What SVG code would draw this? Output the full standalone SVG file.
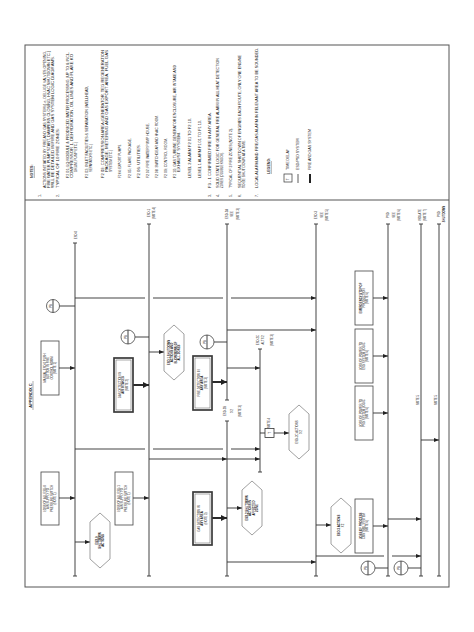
<svg xmlns="http://www.w3.org/2000/svg" width="474" height="632" viewBox="0 0 474 632">
<style>
.ln{stroke:#3a3a3a;stroke-width:0.95;fill:none}
.th{stroke:#2a2a2a;stroke-width:2;fill:none}
.bx{fill:#fff;stroke:#444;stroke-width:0.8}
.db{fill:#fff;stroke:#3a3a3a;stroke-width:1.7}
.dbi{fill:none;stroke:#555;stroke-width:0.5}
.hx{fill:#fff;stroke:#777;stroke-width:0.7}
.ci{fill:#fff;stroke:#444;stroke-width:0.8}
.t{font-family:'Liberation Sans',Arial,sans-serif;fill:#1a1a1a}
.n{font-size:3.6px}
.s{font-size:2.8px}
.k{font-weight:bold}
</style>
<defs>
<marker id="ah" markerUnits="userSpaceOnUse" markerWidth="6" markerHeight="5" refX="5" refY="2.5" orient="auto"><path d="M0,0.6 L5,2.5 L0,4.4z" fill="#222"/></marker>
<marker id="ahb" markerUnits="userSpaceOnUse" markerWidth="7" markerHeight="6" refX="6" refY="3" orient="auto"><path d="M0,0 L6,3 L0,6z" fill="#222"/></marker>
</defs>
<rect width="474" height="632" fill="#fff"/>
<rect x="25" y="45" width="424" height="542" fill="none" stroke="#555" stroke-width="1"/>
<line x1="25" y1="200" x2="449" y2="200" stroke="#555" stroke-width="1"/>

<g id="notes" class="t n">
<text class="k" transform="translate(33.2,178) rotate(-90)">NOTES:</text>
<line x1="34.3" y1="178" x2="34.3" y2="166" stroke="#333" stroke-width="0.4"/>
<text transform="translate(41.2,197) rotate(-90)">1.</text>
<text transform="translate(46.2,188) rotate(-90)" textLength="137" lengthAdjust="spacingAndGlyphs">ACTIONS INITIATED BY FIRE AND GAS SYSTEM (i.e. DELUGE VALVES OPENING,</text>
<text transform="translate(50.2,188) rotate(-90)" textLength="137" lengthAdjust="spacingAndGlyphs">FIRE WATER PUMP START, DAMPERS CLOSING, HVAC SHUTDOWN ETC.)</text>
<text transform="translate(54.2,188) rotate(-90)" textLength="132" lengthAdjust="spacingAndGlyphs">WILL BE DETAILED IN FIRE AND GAS SYSTEM LOGIC DIAGRAMS.</text>
<text transform="translate(59.2,197) rotate(-90)">2.</text>
<text transform="translate(59.2,188) rotate(-90)" textLength="60" lengthAdjust="spacingAndGlyphs">TYPICAL OF 10 FIRE ZONES:</text>
<text transform="translate(69.2,178) rotate(-90)" textLength="126" lengthAdjust="spacingAndGlyphs">F2 01: LQ MODULE &amp; PRODUCED WATER PROCESSING (UP TO &amp; INCL.</text>
<text transform="translate(73.2,178) rotate(-90)" textLength="124" lengthAdjust="spacingAndGlyphs">COMPRESSOR 1, DEHYDRATION, OIL LINES AND FLARE KO</text>
<text transform="translate(77.2,172) rotate(-90)" textLength="30" lengthAdjust="spacingAndGlyphs">DRUM, PUMP ETC.)</text>
<text transform="translate(88.2,178) rotate(-90)" textLength="92" lengthAdjust="spacingAndGlyphs">F2 02: INLET FACILITIES &amp; SEPARATION (WELLHEAD,</text>
<text transform="translate(92.2,172) rotate(-90)" textLength="28" lengthAdjust="spacingAndGlyphs">SEPARATORS ETC.)</text>
<text transform="translate(104.2,178) rotate(-90)" textLength="128" lengthAdjust="spacingAndGlyphs">F2 03: COMPRESSION AREA (GENERATOR, TEG REGENERATION</text>
<text transform="translate(108.2,172) rotate(-90)" textLength="122" lengthAdjust="spacingAndGlyphs">PACKAGE, METERING AND GAS EXPORT AREA, FUEL GAS</text>
<text transform="translate(112.2,172) rotate(-90)" textLength="22" lengthAdjust="spacingAndGlyphs">SYSTEM ETC.)</text>
<text transform="translate(121.2,178) rotate(-90)" textLength="34" lengthAdjust="spacingAndGlyphs">F2 04: EXPORT PUMPS.</text>
<text transform="translate(131.2,178) rotate(-90)" textLength="40" lengthAdjust="spacingAndGlyphs">F2 05: FLARE PACKAGE.</text>
<text transform="translate(140.2,178) rotate(-90)" textLength="34" lengthAdjust="spacingAndGlyphs">F2 06: UTILITIES.</text>
<text transform="translate(149.2,178) rotate(-90)" textLength="55" lengthAdjust="spacingAndGlyphs">F2 07: FIRE WATER PUMP HOUSE.</text>
<text transform="translate(158.2,178) rotate(-90)" textLength="63" lengthAdjust="spacingAndGlyphs">F2 08: SWITCHGEAR AND HVAC ROOM.</text>
<text transform="translate(167.2,178) rotate(-90)" textLength="40" lengthAdjust="spacingAndGlyphs">F2 09: CONTROL ROOM.</text>
<text transform="translate(176.2,178) rotate(-90)" textLength="113" lengthAdjust="spacingAndGlyphs">F2 10: GAS TURBINE GENERATOR ENCLOSURE, AIR INTAKE AND</text>
<text transform="translate(180.2,172) rotate(-90)" textLength="40" lengthAdjust="spacingAndGlyphs">EXHAUST SYSTEM.</text>
<text transform="translate(191.2,178) rotate(-90)" textLength="60" lengthAdjust="spacingAndGlyphs">LEVEL 2 ALARM F2 01 TO F2 10.</text>
<text transform="translate(201.2,178) rotate(-90)" textLength="58" lengthAdjust="spacingAndGlyphs">LEVEL 1 ALARM F1 01 TO F1 10.</text>
<text transform="translate(211.2,197) rotate(-90)">3.</text>
<text transform="translate(211.2,188) rotate(-90)" textLength="76" lengthAdjust="spacingAndGlyphs">F3 - 1 CONFIRMED FIRE IN ANY AREA.</text>
<text transform="translate(219.2,197) rotate(-90)">4.</text>
<text transform="translate(219.2,188) rotate(-90)" textLength="130" lengthAdjust="spacingAndGlyphs">SOLID STATE LOGIC FOR GENERAL FIRE ALARM IN ALL HEAT DETECTION</text>
<text transform="translate(223.2,188) rotate(-90)" textLength="36" lengthAdjust="spacingAndGlyphs">ZONES (DOUBLE KNOCK).</text>
<text transform="translate(232.2,197) rotate(-90)">5.</text>
<text transform="translate(232.2,188) rotate(-90)" textLength="60" lengthAdjust="spacingAndGlyphs">TYPICAL OF 3 FIRE ZONES (NOTE 2).</text>
<text transform="translate(241.2,197) rotate(-90)">6.</text>
<text transform="translate(241.2,188) rotate(-90)" textLength="133" lengthAdjust="spacingAndGlyphs">SEQUENTIAL SHUTDOWN OF ENGINES EACH ROUTE, ONLY ONE ENGINE</text>
<text transform="translate(245.2,188) rotate(-90)" textLength="48" lengthAdjust="spacingAndGlyphs">TO BE SHUT DOWN AT A TIME.</text>
<text transform="translate(258.2,197) rotate(-90)">7.</text>
<text transform="translate(258.2,188) rotate(-90)" textLength="140" lengthAdjust="spacingAndGlyphs">LOCAL ALARM AND FIRE/GAS ALARM IN RELEVANT AREA TO BE SOUNDED.</text>
</g>

<g id="legend" class="t n">
<text class="k" transform="translate(270.2,174) rotate(-90)">LEGEND:</text>
<line x1="271.3" y1="174" x2="271.3" y2="161" stroke="#333" stroke-width="0.4"/>
<rect x="284" y="174" width="8" height="8" fill="#fff" stroke="#333" stroke-width="0.7"/>
<text class="s" transform="translate(289,179.5) rotate(-90)" text-anchor="middle">T</text>
<text transform="translate(289.2,170) rotate(-90)">TIME DELAY</text>
<line x1="298" y1="174" x2="298" y2="183" stroke="#333" stroke-width="0.8"/>
<text transform="translate(299.2,170) rotate(-90)">ESD/PSD SYSTEM</text>
<line x1="310" y1="174" x2="310" y2="183" stroke="#222" stroke-width="2"/>
<text transform="translate(311.2,170) rotate(-90)">FIRE AND GAS SYSTEM</text>
</g>

<g id="title" class="t">
<text class="k" font-size="4" transform="translate(31.5,395.5) rotate(-90)" text-anchor="middle">APPENDIX C</text>
<line x1="33" y1="381" x2="33" y2="410" stroke="#333" stroke-width="0.4"/>
</g>

<g id="connectors">
<path class="ln" d="M75,243V576M149,224V576M227,224V400M227,421V576M260,349V472M316,224V576M388,224V576M421,224V576M439,224V576"/>
<path class="ln" d="M73,243H77M147,224H151M225,224H229M314,224H318M386,224H390M419,224H423M437,224H441M258,349H262M258,472H262M225,400H229M225,421H229M73,576H77M147,576H151M225,576H229M314,576H318M386,576H390M419,576H423M437,576H441"/>
<path class="ln" marker-end="url(#ah)" d="M75,298H145M153,298H223M231,298H316"/>
<path class="ln" marker-end="url(#ah)" d="M373,298H388"/>
<path class="ln" marker-end="url(#ah)" d="M227,330H316"/>
<path class="ln" marker-end="url(#ah)" d="M227,368H260"/>
<path class="ln" marker-end="url(#ah)" d="M75,449H145M153,449H223M231,449H260"/>
<path class="ln" marker-end="url(#ah)" d="M149,459H227"/>
<path class="ln" marker-end="url(#ah)" d="M227,459H260"/>
<path class="ln" marker-end="url(#ah)" d="M227,508H242"/>
<path class="ln" marker-end="url(#ah)" d="M227,562H316"/>
<path class="ln" marker-end="url(#ah)" d="M149,352H164"/>
<path class="ln" marker-end="url(#ah)" d="M75,542H90"/>
<path class="ln" d="M260,433H265"/>
<path class="ln" marker-end="url(#ah)" d="M274,433H289"/>
<path class="ln" marker-end="url(#ah)" d="M316,525H331"/>
<path class="ln" marker-end="url(#ah)" d="M373,356H388"/>
<path class="ln" marker-end="url(#ah)" d="M373,413H388"/>
<path class="ln" marker-end="url(#ah)" d="M373,526H388"/>
<path class="ln" marker-end="url(#ah)" d="M388,519H421"/>
<path class="ln" marker-end="url(#ah)" d="M316,556H384M392,556H421"/>
<path class="ln" marker-end="url(#ah)" d="M421,440H439"/>
<path class="ln" marker-end="url(#ah)" d="M59,368H75"/>
<path class="ln" marker-end="url(#ah)" d="M59,498H75"/>
<path class="ln" marker-end="url(#ah)" d="M133,498H149"/>
<path class="th" marker-end="url(#ahb)" d="M133,385H149"/>
<path class="th" marker-end="url(#ahb)" d="M212,382H227"/>
<path class="th" marker-end="url(#ahb)" d="M212,518H227"/>
<path class="ln" d="M59.5,306H75M135,337H149M214,342H227M375,568H388M408,568H421"/>
</g>

<g id="bus-labels" class="t s">
<text transform="translate(76.5,235) rotate(-90)" text-anchor="middle">ESD-0</text>
<text transform="translate(150,213) rotate(-90)" text-anchor="middle"><tspan x="0" dy="0">ESD-1</tspan><tspan x="0" dy="4.5">(NOTE 4)</tspan></text>
<text transform="translate(228,214) rotate(-90)" text-anchor="middle"><tspan x="0" dy="0">ESD-2A</tspan><tspan x="0" dy="5">SEE</tspan><tspan x="0" dy="6">(NOTE 3)</tspan></text>
<text transform="translate(259,340) rotate(-90)" text-anchor="middle"><tspan x="0" dy="0">ESD-2C</tspan><tspan x="0" dy="5">ALT X2</tspan><tspan x="0" dy="9">(NOTE 3)</tspan></text>
<text transform="translate(226,411) rotate(-90)" text-anchor="middle"><tspan x="0" dy="0">ESD-2B</tspan><tspan x="0" dy="7">X2</tspan><tspan x="0" dy="8">(NOTE 3)</tspan></text>
<text transform="translate(270,428) rotate(-90)">NOTE 4</text>
<text transform="translate(317,215) rotate(-90)" text-anchor="middle"><tspan x="0" dy="0">ESD-3</tspan><tspan x="0" dy="5.5">SEE</tspan><tspan x="0" dy="5">(NOTE 5)</tspan></text>
<text transform="translate(389,215) rotate(-90)" text-anchor="middle"><tspan x="0" dy="0">PSD</tspan><tspan x="0" dy="6">SEE</tspan><tspan x="0" dy="5">(NOTE 6)</tspan></text>
<text transform="translate(421,215) rotate(-90)" text-anchor="middle"><tspan x="0" dy="0">ISOLATE</tspan><tspan x="0" dy="5">(NOTE 7)</tspan></text>
<text transform="translate(440,214) rotate(-90)" text-anchor="middle"><tspan x="0" dy="0">PSD</tspan><tspan class="k" x="0" dy="5">SHUTDOWN</tspan></text>
<text transform="translate(419,400) rotate(-90)" text-anchor="middle">NOTE 5</text>
<text transform="translate(437,400) rotate(-90)" text-anchor="middle">NOTE 5</text>
</g>

<g id="pb1"><circle class="ci" cx="53" cy="306" r="6.5"/><line class="ln" x1="53" y1="299.5" x2="53" y2="312.5" stroke-width="0.6"/><text class="t s" transform="translate(51.5,306) rotate(-90)" text-anchor="middle">PB</text></g>
<g id="pb2"><circle class="ci" cx="128" cy="337" r="7"/><line class="ln" x1="128" y1="330" x2="128" y2="344" stroke-width="0.6"/><text class="t s" transform="translate(126.5,337) rotate(-90)" text-anchor="middle">PB</text></g>
<g id="pb3"><circle class="ci" cx="207" cy="342" r="7"/><line class="ln" x1="207" y1="335" x2="207" y2="349" stroke-width="0.6"/><text class="t s" transform="translate(205.5,342) rotate(-90)" text-anchor="middle">PB</text></g>
<g id="pb4"><circle class="ci" cx="368" cy="568" r="7"/><line class="ln" x1="368" y1="561" x2="368" y2="575" stroke-width="0.6"/><text class="t s" transform="translate(366.5,568) rotate(-90)" text-anchor="middle">PB</text></g>
<g id="pb5"><circle class="ci" cx="401" cy="568" r="7"/><line class="ln" x1="401" y1="561" x2="401" y2="575" stroke-width="0.6"/><text class="t s" transform="translate(399.5,568) rotate(-90)" text-anchor="middle">PB</text></g>

<g id="boxA"><rect class="bx" x="41" y="341" width="18" height="54"/>
<text class="t s" transform="translate(45.9,368) rotate(-90)" text-anchor="middle"><tspan x="0" dy="0">MANUAL ESD-0 PUSH</tspan><tspan x="0" dy="3.4">BUTTON IN FIRE</tspan><tspan x="0" dy="3.4">CONTROL ROOM</tspan><tspan x="0" dy="3.4">(NOTE 1)</tspan></text></g>
<g id="boxB"><rect class="bx" x="41" y="472" width="18" height="53"/>
<text class="t s" transform="translate(45.9,498.5) rotate(-90)" text-anchor="middle"><tspan x="0" dy="0">LOSS OF ALL ESD-0</tspan><tspan x="0" dy="3.4">AIR SUPPLY TO</tspan><tspan x="0" dy="3.4">PRESSURE SWITCH</tspan><tspan x="0" dy="3.4">(NOTE 1)</tspan></text></g>
<g id="hex1"><polygon class="hx" points="90,522 100,513 110,522 110,559 100,568 90,559"/>
<text class="t s k" transform="translate(97.6,540.5) rotate(-90)" text-anchor="middle"><tspan x="0" dy="0">ESD-0</tspan><tspan x="0" dy="3.4">SHUTDOWN</tspan><tspan x="0" dy="3.4">ACTIONS</tspan></text></g>
<g id="dbox1"><rect class="db" x="114" y="358" width="19" height="54"/><rect class="dbi" x="116" y="360" width="15" height="50"/>
<text class="t s" transform="translate(121.1,385) rotate(-90)" text-anchor="middle"><tspan x="0" dy="0">GAS DETECTION IN</tspan><tspan class="k" x="0" dy="3.4">AIR INTAKES</tspan><tspan x="0" dy="3.4">(NOTE 2)</tspan></text></g>
<g id="boxC"><rect class="bx" x="115" y="472" width="18" height="53"/>
<text class="t s" transform="translate(119.9,498.5) rotate(-90)" text-anchor="middle"><tspan x="0" dy="0">LOSS OF ALL ESD-1</tspan><tspan x="0" dy="3.4">AIR SUPPLY TO</tspan><tspan x="0" dy="3.4">PRESSURE SWITCH</tspan><tspan x="0" dy="3.4">(NOTE 1)</tspan></text></g>
<g id="hex2"><polygon class="hx" points="164,334 174,325 184,334 184,371 174,380 164,371"/>
<text class="t s k" transform="translate(169.9,352.5) rotate(-90)" text-anchor="middle"><tspan x="0" dy="0">ESD-1 SHUTDOWN</tspan><tspan x="0" dy="3.4">ACTIONS AND</tspan><tspan x="0" dy="3.4">BLOWDOWN OF</tspan><tspan x="0" dy="3.4">ALL ZONES</tspan></text></g>
<g id="dbox2"><rect class="db" x="193" y="356" width="19" height="54"/><rect class="dbi" x="195" y="358" width="15" height="50"/>
<text class="t s" transform="translate(200.1,383) rotate(-90)" text-anchor="middle"><tspan x="0" dy="0">FIRE DETECTION IN</tspan><tspan class="k" x="0" dy="3.4">ANY AREA</tspan><tspan x="0" dy="3.4">(NOTE 3)</tspan></text></g>
<g id="dbox3"><rect class="db" x="193" y="492" width="19" height="53"/><rect class="dbi" x="195" y="494" width="15" height="49"/>
<text class="t s" transform="translate(200.1,518.5) rotate(-90)" text-anchor="middle"><tspan x="0" dy="0">GAS DETECTION IN</tspan><tspan class="k" x="0" dy="3.4">ANY AREA</tspan><tspan x="0" dy="3.4">(NOTE 3)</tspan></text></g>
<g id="hex3"><polygon class="hx" points="242,490 252,481 262,490 262,526 252,535 242,526"/>
<text class="t s k" transform="translate(247.9,508) rotate(-90)" text-anchor="middle"><tspan x="0" dy="0">ESD-2 SHUTDOWN</tspan><tspan x="0" dy="3.4">ACTIONS IN</tspan><tspan x="0" dy="3.4">AFFECTED</tspan><tspan x="0" dy="3.4">ZONE</tspan></text></g>
<g id="tdelay"><rect x="265" y="428.5" width="9" height="9" fill="#fff" stroke="#333" stroke-width="0.8"/>
<text class="t s" transform="translate(270.5,433) rotate(-90)" text-anchor="middle">T</text></g>
<g id="hex4"><polygon class="hx" points="289,414 299,405 309,414 309,450 299,459 289,450"/>
<text class="t s" transform="translate(298.3,432) rotate(-90)" text-anchor="middle"><tspan x="0" dy="0">ESD-2C ACTIONS</tspan><tspan x="0" dy="3.4">X2</tspan></text></g>
<g id="box1"><rect class="bx" x="355" y="271" width="18" height="54"/>
<text class="t s" transform="translate(361.6,298) rotate(-90)" text-anchor="middle"><tspan class="k" x="0" dy="0">EMERGENCY STOP OF</tspan><tspan x="0" dy="3.4">PRODUCTION</tspan><tspan x="0" dy="3.4">(NOTE 6)</tspan></text></g>
<g id="box2"><rect class="bx" x="355" y="329" width="18" height="54"/>
<text class="t s" transform="translate(361.6,356) rotate(-90)" text-anchor="middle"><tspan x="0" dy="0">LOSS OF POWER TO</tspan><tspan x="0" dy="3.4">ESD SYSTEM LOGIC</tspan><tspan x="0" dy="3.4">(NOTE 6)</tspan></text></g>
<g id="box3"><rect class="bx" x="355" y="386" width="18" height="54"/>
<text class="t s" transform="translate(361.6,413) rotate(-90)" text-anchor="middle"><tspan x="0" dy="0">LOSS OF POWER TO</tspan><tspan x="0" dy="3.4">PSD SYSTEM LOGIC</tspan><tspan x="0" dy="3.4">(NOTE 6)</tspan></text></g>
<g id="hex5"><polygon class="hx" points="331,507 341,498 351,507 351,544 341,553 331,544"/>
<text class="t s" transform="translate(340.3,525.5) rotate(-90)" text-anchor="middle"><tspan class="k" x="0" dy="0">ESD-3 ACTIONS</tspan><tspan x="0" dy="3.4">X2</tspan></text></g>
<g id="box4"><rect class="bx" x="355" y="499" width="18" height="54"/>
<text class="t s" transform="translate(361.6,526) rotate(-90)" text-anchor="middle"><tspan class="k" x="0" dy="0">LOSS OF PROCESS</tspan><tspan x="0" dy="3.4">CONTROL SYSTEM</tspan><tspan x="0" dy="3.4">(NOTE 6)</tspan></text></g>
</svg>
